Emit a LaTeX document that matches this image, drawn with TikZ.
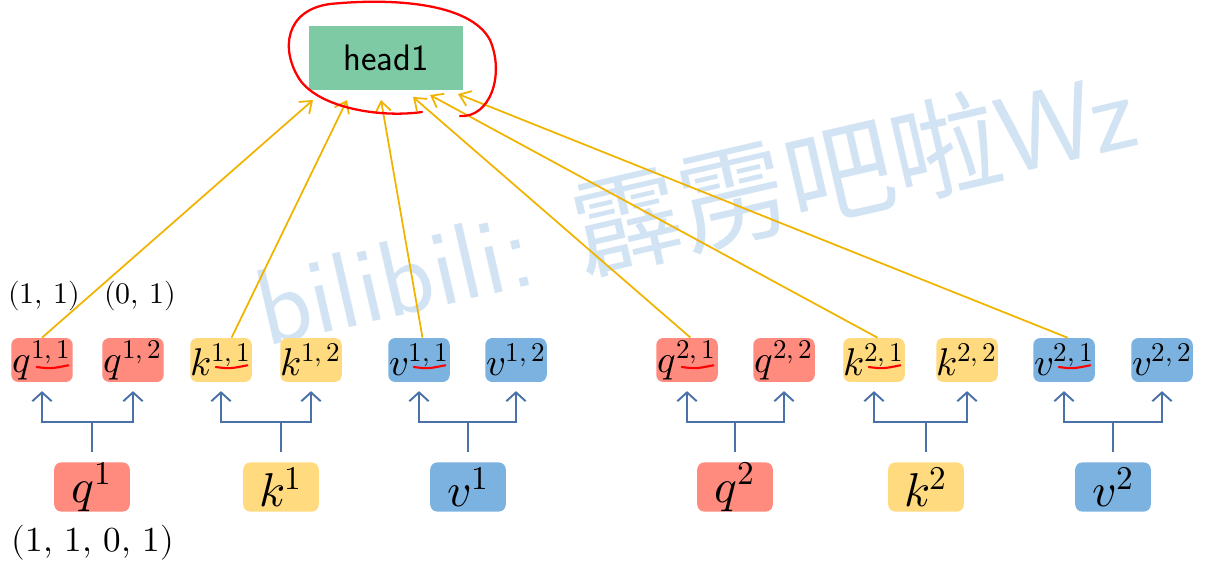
\documentclass[tikz,border=0pt]{standalone}
\usepackage{fontspec}
\usepackage{unicode-math}
\newfontfamily\cjk{Noto Sans CJK SC}
\usetikzlibrary{arrows.meta}
\definecolor{qc}{HTML}{FF8A7E}
\definecolor{kc}{HTML}{FFDA7E}
\definecolor{vc}{HTML}{7CB2E0}
\definecolor{hc}{HTML}{7ECAA5}
\definecolor{fork}{HTML}{4A72A8}
\definecolor{ya}{HTML}{F0B400}
\definecolor{wm}{HTML}{D2E4F4}
\tikzset{
 sbox/.style={rounded corners=4pt,minimum width=35pt,minimum height=25pt,inner sep=0pt,font=\fontsize{22}{26}\selectfont},
 bbox/.style={rounded corners=4pt,minimum width=43pt,minimum height=28pt,inner sep=0pt,font=\fontsize{27}{30}\selectfont},
 forkl/.style={draw=fork,line width=1.1pt},
 forka/.style={forkl,-{Straight Barb[length=5pt,width=11pt]}},
 yarr/.style={draw=ya,line width=1pt,-{Straight Barb[length=6pt,width=9pt]}},
 lab/.style={font=\fontsize{17}{20}\selectfont},
 redu/.style={draw=red,line width=1.2pt,line cap=round}
}
\begin{document}
\begin{tikzpicture}[x=0.02cm,y=-0.02cm]
\useasboundingbox (0,0) rectangle (1212,587);
\node[rotate=13,text=wm,font=\fontsize{62}{64}\selectfont\sffamily] (wmk) at (695,205) {bilibili: {\cjk 霹雳吧啦}Wz};
\node[fill=hc,minimum width=88pt,minimum height=36pt,font=\fontsize{21}{24}\selectfont\sffamily] (head) at (386,58) {head1};
\foreach \n/\x/\c/\t/\a/\b in {q11/42/qc/q/1/1,q12/133/qc/q/1/2,k11/221/kc/k/1/1,k12/311/kc/k/1/2,v11/419/vc/v/1/1,v12/516/vc/v/1/2,q21/687/qc/q/2/1,q22/784/qc/q/2/2,k21/874/kc/k/2/1,k22/967/kc/k/2/2,v21/1064/vc/v/2/1,v22/1162/vc/v/2/2}
  \node[sbox,fill=\c] (\n) at (\x,360) {$\t^{\a,\,\b}$};
\foreach \n/\x/\c/\t/\s/\a/\b in {q1/92/qc/q/1/q11/q12,k1/281/kc/k/1/k11/k12,v1/468/vc/v/1/v11/v12,q2/735/qc/q/2/q21/q22,k2/926/kc/k/2/k21/k22,v2/1113/vc/v/2/v21/v22}{
  \node[bbox,fill=\c] (\n) at (\x,487) {$\t^{\s}$};
  \coordinate (\n j) at (\x,422);
  \draw[forkl] (\n.north) ++(0,-10) -- (\n j);
  \draw[forka] (\n j) -| ([yshift=-5pt]\a.south);
  \draw[forka] (\n j) -| ([yshift=-5pt]\b.south);
}
\foreach \n in {q11,k11,v11,q21,k21,v21}
  \draw[redu] ([xshift=-3pt,yshift=-4pt]\n.center) .. controls +(8pt,-1pt) .. +(18pt,1pt);
\coordinate (t1) at (313,100); \coordinate (t2) at (347,100); \coordinate (t3) at (381,100);
\coordinate (t4) at (413,97); \coordinate (t5) at (430,95); \coordinate (t6) at (458,94);
\draw[yarr] (q11.north) -- (t1);
\draw[yarr] ([xshift=6pt]k11.north) -- (t2);
\draw[yarr] ([xshift=2pt]v11.north) -- (t3);
\draw[yarr] ([xshift=2pt]q21.north) -- (t4);
\draw[yarr] ([xshift=2pt]k21.north) -- (t5);
\draw[yarr] ([xshift=2pt]v21.north) -- (t6);
\node[lab] (l1) at (44,296) {$(1,\,1)$};
\node[lab] (l2) at (140,296) {$(0,\,1)$};
\node[lab,font=\fontsize{20}{23}\selectfont] (l3) at (93,543) {$(1,\,1,\,0,\,1)$};
\draw[red,line width=1.3pt,line cap=round] (422,112) .. controls (380,118) and (320,108) .. (300,80)
  .. controls (280,50) and (285,10) .. (330,4) .. controls (390,-2) and (470,2) .. (490,40)
  .. controls (505,75) and (490,118) .. (460,116);
\end{tikzpicture}
\end{document}
